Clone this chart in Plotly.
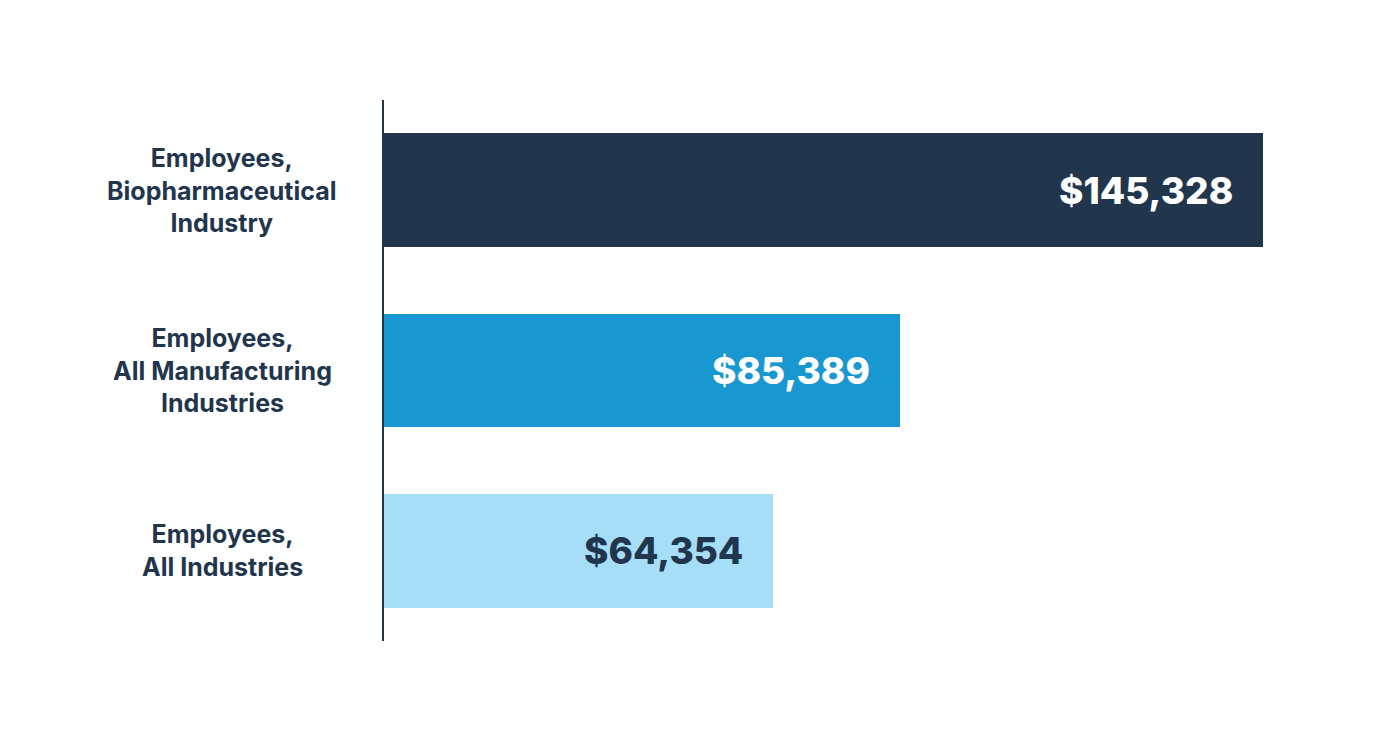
import plotly.graph_objects as go

categories = ["Employees,<br>Biopharmaceutical<br>Industry",
              "Employees,<br>All Manufacturing<br>Industries",
              "Employees,<br>All Industries"]
values = [145328, 85389, 64354]
value_labels = ["$145,328", "$85,389", "$64,354"]
bar_colors = ["#21354d", "#1897d0", "#a6def8"]
text_colors = ["#ffffff", "#ffffff", "#21354d"]

NAVY = "#21354d"
FONT = "Inter, Lato, 'DejaVu Sans', sans-serif"

fig = go.Figure()
fig.add_trace(go.Bar(
    x=values, y=list(range(len(categories))), orientation="h",
    marker=dict(color=bar_colors, line=dict(width=0)),
    width=0.63, hoverinfo="skip",
))

annotations = []
for i, (v, lab, tc) in enumerate(zip(values, value_labels, text_colors)):
    annotations.append(dict(
        x=v, y=i, xref="x", yref="y", text=lab, showarrow=False,
        xanchor="right", yanchor="middle", xshift=-28,
        font=dict(family=FONT, size=37, color=tc, weight=800),
    ))
for i, c in enumerate(categories):
    annotations.append(dict(
        x=-0.184, y=i, xref="paper", yref="y", text=c, showarrow=False,
        xanchor="center", yanchor="middle", align="center",
        font=dict(family=FONT, size=25, color=NAVY, weight=700),
    ))

fig.update_layout(
    width=1388, height=740,
    margin=dict(l=384, r=125, t=100, b=99),
    paper_bgcolor="white", plot_bgcolor="white",
    showlegend=False,
    annotations=annotations,
    xaxis=dict(range=[0, 145328], showgrid=False, zeroline=False,
               showticklabels=False, showline=False, fixedrange=True),
    yaxis=dict(range=[2.5, -0.5], showgrid=False, zeroline=False,
               showticklabels=False, showline=True, linecolor=NAVY,
               linewidth=2, ticks="", fixedrange=True),
    bargap=0,
)

fig.write_html("out.html", config={"displayModeBar": False})
